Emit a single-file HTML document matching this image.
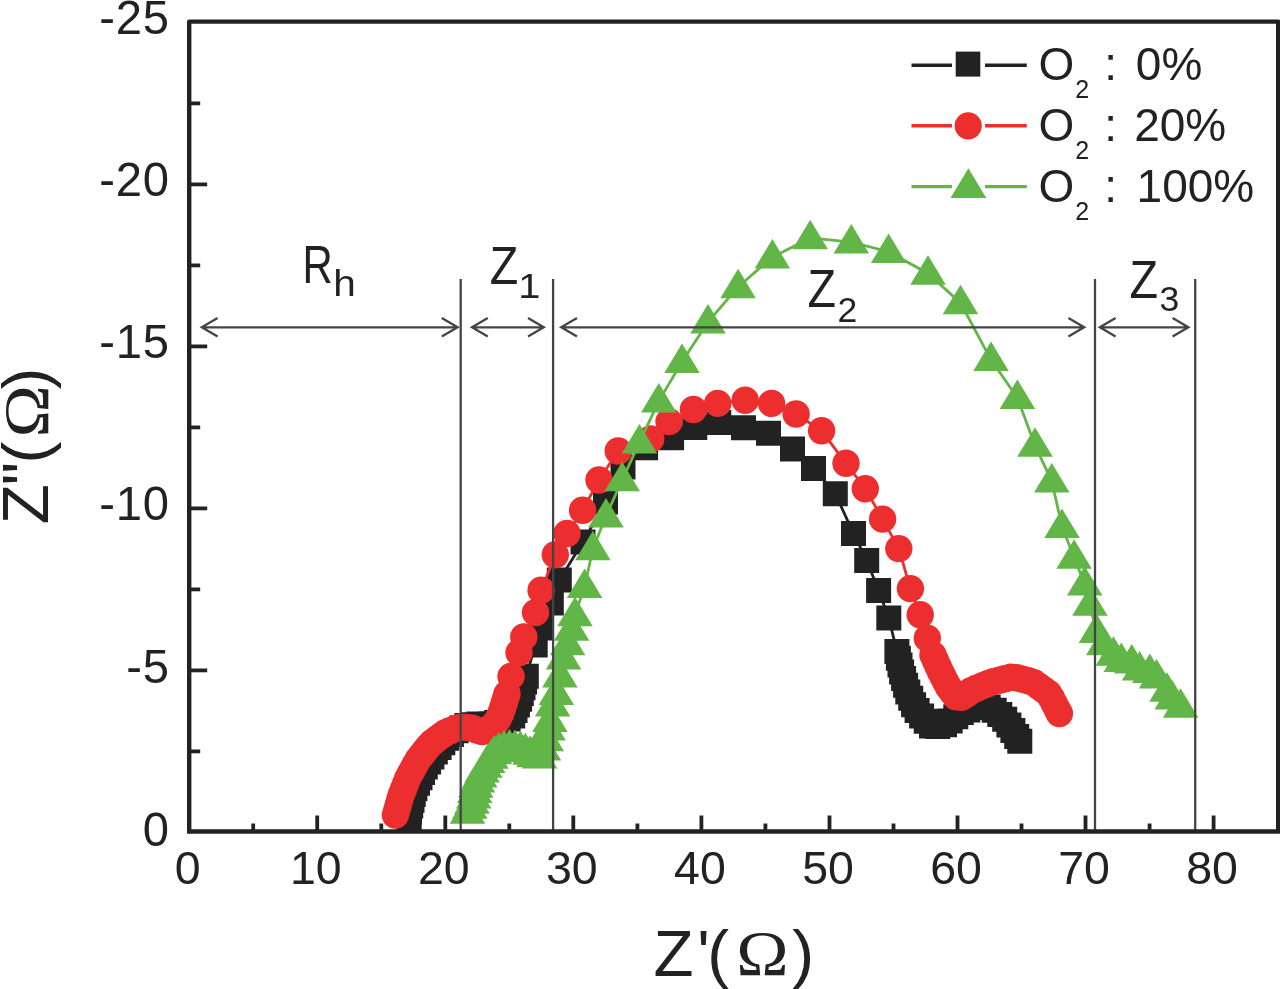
<!DOCTYPE html>
<html lang="en"><head><meta charset="utf-8"><title>Nyquist plot</title>
<style>html,body{margin:0;padding:0;background:#fff}body{width:1280px;height:989px;overflow:hidden}svg{display:block}</style></head>
<body>
<svg width="1280" height="989" viewBox="0 0 1280 989">
<rect width="1280" height="989" fill="#fff"/>
<defs><clipPath id="frame"><rect x="189.2" y="21.6" width="1089.0" height="809.9"/></clipPath></defs>
<g id="s-black" clip-path="url(#frame)"><polyline points="409.0,824.0 409.2,818.0 409.5,812.0 410.7,806.1 412.0,800.3 413.2,794.4 414.9,788.7 417.5,783.2 420.0,777.8 422.5,772.4 425.3,767.1 428.6,762.1 431.9,757.1 435.3,752.1 439.1,747.4 442.8,742.8 446.7,738.2 451.4,734.5 456.1,730.8 461.5,728.1 466.9,725.5 472.9,724.7 478.8,724.0 484.8,724.0 490.8,723.8 496.7,722.6 502.5,721.3 508.1,719.1 512.7,715.9 515.0,710.4 517.4,704.9 519.6,699.3 521.3,693.5 523.0,687.8 524.6,682.0 526.3,676.3 535.2,645.0 541.0,628.0 551.3,603.0 559.3,580.1 583.0,542.0 605.5,502.0 623.0,467.0 645.6,447.8 671.6,437.7 694.8,427.5 718.8,422.5 743.5,427.7 768.5,433.2 792.5,449.0 813.5,468.4 835.3,493.8 853.5,533.4 866.7,560.4 878.6,590.5 888.8,617.9 896.9,651.4 898.4,658.2 900.0,665.1 901.6,671.9 903.6,678.6 905.6,685.3 907.8,691.9 910.7,698.3 913.6,704.7 917.1,710.6 921.6,716.0 926.2,721.3 931.5,725.9 937.7,726.5 944.5,724.8 950.2,721.0 955.8,716.7 961.3,712.4 967.8,709.9 974.4,707.6 981.2,706.6 988.2,707.1 994.2,710.2 999.8,714.4 1004.7,719.3 1008.9,724.9 1012.9,730.6 1016.7,736.5 1019.8,741.2" fill="none" stroke="#222222" stroke-width="2.8"/>
<path fill="#222222" d="M396.5 811.5h25v25h-25zM396.7 805.5h25v25h-25zM397.0 799.5h25v25h-25zM398.2 793.6h25v25h-25zM399.5 787.8h25v25h-25zM400.7 781.9h25v25h-25zM402.4 776.2h25v25h-25zM405.0 770.7h25v25h-25zM407.5 765.3h25v25h-25zM410.0 759.9h25v25h-25zM412.8 754.6h25v25h-25zM416.1 749.6h25v25h-25zM419.4 744.6h25v25h-25zM422.8 739.6h25v25h-25zM426.6 734.9h25v25h-25zM430.3 730.3h25v25h-25zM434.2 725.7h25v25h-25zM438.9 722.0h25v25h-25zM443.6 718.3h25v25h-25zM449.0 715.6h25v25h-25zM454.4 713.0h25v25h-25zM460.4 712.2h25v25h-25zM466.3 711.5h25v25h-25zM472.3 711.5h25v25h-25zM478.3 711.3h25v25h-25zM484.2 710.1h25v25h-25zM490.0 708.8h25v25h-25zM495.6 706.6h25v25h-25zM500.2 703.4h25v25h-25zM502.5 697.9h25v25h-25zM504.9 692.4h25v25h-25zM507.1 686.8h25v25h-25zM508.8 681.0h25v25h-25zM510.5 675.3h25v25h-25zM512.1 669.5h25v25h-25zM513.8 663.8h25v25h-25zM522.7 632.5h25v25h-25zM528.5 615.5h25v25h-25zM538.8 590.5h25v25h-25zM546.8 567.6h25v25h-25zM570.5 529.5h25v25h-25zM593.0 489.5h25v25h-25zM610.5 454.5h25v25h-25zM633.1 435.3h25v25h-25zM659.1 425.2h25v25h-25zM682.3 415.0h25v25h-25zM706.3 410.0h25v25h-25zM731.0 415.2h25v25h-25zM756.0 420.7h25v25h-25zM780.0 436.5h25v25h-25zM801.0 455.9h25v25h-25zM822.8 481.3h25v25h-25zM841.0 520.9h25v25h-25zM854.2 547.9h25v25h-25zM866.1 578.0h25v25h-25zM876.3 605.4h25v25h-25zM884.4 638.9h25v25h-25zM885.9 645.7h25v25h-25zM887.5 652.6h25v25h-25zM889.1 659.4h25v25h-25zM891.1 666.1h25v25h-25zM893.1 672.8h25v25h-25zM895.3 679.4h25v25h-25zM898.2 685.8h25v25h-25zM901.1 692.2h25v25h-25zM904.6 698.1h25v25h-25zM909.1 703.5h25v25h-25zM913.7 708.8h25v25h-25zM919.0 713.4h25v25h-25zM925.2 714.0h25v25h-25zM932.0 712.3h25v25h-25zM937.7 708.5h25v25h-25zM943.3 704.2h25v25h-25zM948.8 699.9h25v25h-25zM955.3 697.4h25v25h-25zM961.9 695.1h25v25h-25zM968.7 694.1h25v25h-25zM975.7 694.6h25v25h-25zM981.7 697.7h25v25h-25zM987.3 701.9h25v25h-25zM992.2 706.8h25v25h-25zM996.4 712.4h25v25h-25zM1000.4 718.1h25v25h-25zM1004.2 724.0h25v25h-25zM1007.3 728.7h25v25h-25z"/></g>
<g id="s-red" fill="#ec2e2f" clip-path="url(#frame)"><polyline points="395.4,815.1 396.9,809.8 398.4,804.5 399.8,799.2 401.6,794.0 403.6,788.9 405.6,783.8 407.6,778.6 410.2,773.8 412.8,769.0 415.5,764.1 418.2,759.4 421.6,755.1 425.0,750.7 428.4,746.4 432.2,742.5 436.6,739.2 441.0,735.9 445.5,732.8 450.6,730.6 455.6,728.4 460.9,727.3 466.4,727.4 471.8,728.1 476.9,730.1 482.2,731.6 487.3,730.1 491.7,727.0 495.6,723.1 498.4,718.4 500.7,713.4 502.6,708.2 504.2,703.0 505.9,697.7 507.0,694.0 511.0,676.4 519.0,652.8 523.8,637.0 535.5,612.6 541.1,590.2 555.3,554.8 567.0,533.5 582.6,510.2 599.0,480.0 618.2,451.0 650.7,439.0 669.0,421.6 693.4,409.5 717.7,403.4 745.2,400.3 771.6,403.4 796.1,414.0 821.6,430.8 846.0,463.3 865.3,488.7 882.6,519.1 898.8,548.6 910.4,588.6 920.2,614.8 927.3,638.2 933.0,655.0 935.4,660.5 937.9,666.0 940.4,671.4 943.1,676.8 945.8,682.1 948.7,687.3 952.3,692.1 956.0,696.9 961.4,697.3 966.4,694.3 971.2,690.7 976.6,688.2 982.2,685.9 987.7,683.7 993.3,681.6 999.2,680.2 1005.0,678.7 1010.8,677.3 1016.6,677.8 1022.5,679.2 1028.3,680.7 1033.9,682.6 1038.7,686.2 1043.5,689.8 1048.3,693.3 1051.5,698.3 1054.3,703.7 1057.0,709.0 1059.4,713.5" fill="none" stroke="#ec2e2f" stroke-width="2.8"/>
<circle cx="395.4" cy="815.1" r="13.7"/><circle cx="396.9" cy="809.8" r="13.7"/><circle cx="398.4" cy="804.5" r="13.7"/><circle cx="399.8" cy="799.2" r="13.7"/><circle cx="401.6" cy="794.0" r="13.7"/><circle cx="403.6" cy="788.9" r="13.7"/><circle cx="405.6" cy="783.8" r="13.7"/><circle cx="407.6" cy="778.6" r="13.7"/><circle cx="410.2" cy="773.8" r="13.7"/><circle cx="412.8" cy="769.0" r="13.7"/><circle cx="415.5" cy="764.1" r="13.7"/><circle cx="418.2" cy="759.4" r="13.7"/><circle cx="421.6" cy="755.1" r="13.7"/><circle cx="425.0" cy="750.7" r="13.7"/><circle cx="428.4" cy="746.4" r="13.7"/><circle cx="432.2" cy="742.5" r="13.7"/><circle cx="436.6" cy="739.2" r="13.7"/><circle cx="441.0" cy="735.9" r="13.7"/><circle cx="445.5" cy="732.8" r="13.7"/><circle cx="450.6" cy="730.6" r="13.7"/><circle cx="455.6" cy="728.4" r="13.7"/><circle cx="460.9" cy="727.3" r="13.7"/><circle cx="466.4" cy="727.4" r="13.7"/><circle cx="471.8" cy="728.1" r="13.7"/><circle cx="476.9" cy="730.1" r="13.7"/><circle cx="482.2" cy="731.6" r="13.7"/><circle cx="487.3" cy="730.1" r="13.7"/><circle cx="491.7" cy="727.0" r="13.7"/><circle cx="495.6" cy="723.1" r="13.7"/><circle cx="498.4" cy="718.4" r="13.7"/><circle cx="500.7" cy="713.4" r="13.7"/><circle cx="502.6" cy="708.2" r="13.7"/><circle cx="504.2" cy="703.0" r="13.7"/><circle cx="505.9" cy="697.7" r="13.7"/><circle cx="507.0" cy="694.0" r="13.7"/><circle cx="511.0" cy="676.4" r="13.7"/><circle cx="519.0" cy="652.8" r="13.7"/><circle cx="523.8" cy="637.0" r="13.7"/><circle cx="535.5" cy="612.6" r="13.7"/><circle cx="541.1" cy="590.2" r="13.7"/><circle cx="555.3" cy="554.8" r="13.7"/><circle cx="567.0" cy="533.5" r="13.7"/><circle cx="582.6" cy="510.2" r="13.7"/><circle cx="599.0" cy="480.0" r="13.7"/><circle cx="618.2" cy="451.0" r="13.7"/><circle cx="650.7" cy="439.0" r="13.7"/><circle cx="669.0" cy="421.6" r="13.7"/><circle cx="693.4" cy="409.5" r="13.7"/><circle cx="717.7" cy="403.4" r="13.7"/><circle cx="745.2" cy="400.3" r="13.7"/><circle cx="771.6" cy="403.4" r="13.7"/><circle cx="796.1" cy="414.0" r="13.7"/><circle cx="821.6" cy="430.8" r="13.7"/><circle cx="846.0" cy="463.3" r="13.7"/><circle cx="865.3" cy="488.7" r="13.7"/><circle cx="882.6" cy="519.1" r="13.7"/><circle cx="898.8" cy="548.6" r="13.7"/><circle cx="910.4" cy="588.6" r="13.7"/><circle cx="920.2" cy="614.8" r="13.7"/><circle cx="927.3" cy="638.2" r="13.7"/><circle cx="933.0" cy="655.0" r="13.7"/><circle cx="935.4" cy="660.5" r="13.7"/><circle cx="937.9" cy="666.0" r="13.7"/><circle cx="940.4" cy="671.4" r="13.7"/><circle cx="943.1" cy="676.8" r="13.7"/><circle cx="945.8" cy="682.1" r="13.7"/><circle cx="948.7" cy="687.3" r="13.7"/><circle cx="952.3" cy="692.1" r="13.7"/><circle cx="956.0" cy="696.9" r="13.7"/><circle cx="961.4" cy="697.3" r="13.7"/><circle cx="966.4" cy="694.3" r="13.7"/><circle cx="971.2" cy="690.7" r="13.7"/><circle cx="976.6" cy="688.2" r="13.7"/><circle cx="982.2" cy="685.9" r="13.7"/><circle cx="987.7" cy="683.7" r="13.7"/><circle cx="993.3" cy="681.6" r="13.7"/><circle cx="999.2" cy="680.2" r="13.7"/><circle cx="1005.0" cy="678.7" r="13.7"/><circle cx="1010.8" cy="677.3" r="13.7"/><circle cx="1016.6" cy="677.8" r="13.7"/><circle cx="1022.5" cy="679.2" r="13.7"/><circle cx="1028.3" cy="680.7" r="13.7"/><circle cx="1033.9" cy="682.6" r="13.7"/><circle cx="1038.7" cy="686.2" r="13.7"/><circle cx="1043.5" cy="689.8" r="13.7"/><circle cx="1048.3" cy="693.3" r="13.7"/><circle cx="1051.5" cy="698.3" r="13.7"/><circle cx="1054.3" cy="703.7" r="13.7"/><circle cx="1057.0" cy="709.0" r="13.7"/><circle cx="1059.4" cy="713.5" r="13.7"/></g>
<g id="s-green" clip-path="url(#frame)"><polyline points="467.5,812.4 469.8,807.4 472.0,802.4 473.7,797.2 474.7,791.8 475.8,786.4 477.5,781.2 479.8,776.2 482.1,771.2 484.9,766.5 487.7,761.8 491.0,757.4 494.4,753.0 499.0,750.1 504.0,748.0 509.4,747.0 514.9,747.6 520.3,748.5 525.3,750.9 530.1,753.5 534.0,755.9 539.5,757.1 543.5,749.0 546.3,739.9 548.1,729.0 549.9,720.8 552.6,705.3 556.3,693.5 559.9,676.2 563.6,658.0 567.6,643.9 571.6,629.4 575.0,614.9 584.6,586.5 592.9,548.9 606.0,516.0 622.2,479.9 639.5,442.3 658.8,401.1 682.0,361.8 708.0,322.2 738.1,286.9 772.4,257.2 810.2,237.9 851.3,242.2 888.6,251.7 928.0,273.4 960.5,302.9 991.0,359.8 1017.4,397.8 1035.0,445.4 1051.8,481.1 1062.0,526.6 1074.1,557.4 1084.7,584.0 1089.9,604.4 1096.4,631.6 1103.7,643.9 1113.4,654.4 1121.3,660.8 1131.8,662.0 1139.6,669.0 1149.8,671.8 1156.6,677.2 1167.0,690.4 1172.2,698.2 1180.6,706.4" fill="none" stroke="#62b547" stroke-width="2.8"/>
<path fill="#62b547" d="M467.5 794.2l17.75 29.5h-35.5zM469.8 789.2l17.75 29.5h-35.5zM472.0 784.2l17.75 29.5h-35.5zM473.7 779.0l17.75 29.5h-35.5zM474.7 773.6l17.75 29.5h-35.5zM475.8 768.2l17.75 29.5h-35.5zM477.5 763.0l17.75 29.5h-35.5zM479.8 758.1l17.75 29.5h-35.5zM482.1 753.1l17.75 29.5h-35.5zM484.9 748.3l17.75 29.5h-35.5zM487.7 743.6l17.75 29.5h-35.5zM491.0 739.2l17.75 29.5h-35.5zM494.4 734.8l17.75 29.5h-35.5zM499.0 732.0l17.75 29.5h-35.5zM504.0 729.9l17.75 29.5h-35.5zM509.4 728.9l17.75 29.5h-35.5zM514.9 729.5l17.75 29.5h-35.5zM520.3 730.4l17.75 29.5h-35.5zM525.3 732.7l17.75 29.5h-35.5zM530.1 735.3l17.75 29.5h-35.5zM534.0 737.8l17.75 29.5h-35.5zM539.5 739.0l17.75 29.5h-35.5zM543.5 730.9l17.75 29.5h-35.5zM546.3 721.8l17.75 29.5h-35.5zM548.1 710.9l17.75 29.5h-35.5zM549.9 702.6l17.75 29.5h-35.5zM552.6 687.1l17.75 29.5h-35.5zM556.3 675.4l17.75 29.5h-35.5zM559.9 658.0l17.75 29.5h-35.5zM563.6 639.9l17.75 29.5h-35.5zM567.6 625.8l17.75 29.5h-35.5zM571.6 611.2l17.75 29.5h-35.5zM575.0 596.8l17.75 29.5h-35.5zM584.6 568.4l17.75 29.5h-35.5zM592.9 530.8l17.75 29.5h-35.5zM606.0 497.9l17.75 29.5h-35.5zM622.2 461.8l17.75 29.5h-35.5zM639.5 424.1l17.75 29.5h-35.5zM658.8 382.9l17.75 29.5h-35.5zM682.0 343.6l17.75 29.5h-35.5zM708.0 304.1l17.75 29.5h-35.5zM738.1 268.8l17.75 29.5h-35.5zM772.4 239.1l17.75 29.5h-35.5zM810.2 219.8l17.75 29.5h-35.5zM851.3 224.1l17.75 29.5h-35.5zM888.6 233.6l17.75 29.5h-35.5zM928.0 255.2l17.75 29.5h-35.5zM960.5 284.8l17.75 29.5h-35.5zM991.0 341.6l17.75 29.5h-35.5zM1017.4 379.6l17.75 29.5h-35.5zM1035.0 427.2l17.75 29.5h-35.5zM1051.8 462.9l17.75 29.5h-35.5zM1062.0 508.5l17.75 29.5h-35.5zM1074.1 539.2l17.75 29.5h-35.5zM1084.7 565.9l17.75 29.5h-35.5zM1089.9 586.2l17.75 29.5h-35.5zM1096.4 613.5l17.75 29.5h-35.5zM1103.7 625.8l17.75 29.5h-35.5zM1113.4 636.2l17.75 29.5h-35.5zM1121.3 642.6l17.75 29.5h-35.5zM1131.8 643.9l17.75 29.5h-35.5zM1139.6 650.9l17.75 29.5h-35.5zM1149.8 653.6l17.75 29.5h-35.5zM1156.6 659.0l17.75 29.5h-35.5zM1167.0 672.2l17.75 29.5h-35.5zM1172.2 680.0l17.75 29.5h-35.5zM1180.6 688.2l17.75 29.5h-35.5z"/></g>
<g stroke="#444444" stroke-width="2.3" fill="none">
<line x1="460.7" y1="279" x2="460.7" y2="831"/>
<line x1="553.1" y1="279" x2="553.1" y2="831"/>
<line x1="1095" y1="279" x2="1095" y2="831"/>
<line x1="1195.2" y1="279" x2="1195.2" y2="831"/>
<path d="M201.8 327.3H457.6M217.60000000000002 318.1L201.8 327.3L217.60000000000002 336.5M441.8 318.1L457.6 327.3L441.8 336.5" stroke-linejoin="miter"/>
<path d="M472 327.3H543.8M487.8 318.1L472 327.3L487.8 336.5M528.0 318.1L543.8 327.3L528.0 336.5" stroke-linejoin="miter"/>
<path d="M561.2 327.3H1084.2M577.0 318.1L561.2 327.3L577.0 336.5M1068.4 318.1L1084.2 327.3L1068.4 336.5" stroke-linejoin="miter"/>
<path d="M1099.8 327.3H1188.4M1115.6 318.1L1099.8 327.3L1115.6 336.5M1172.6000000000001 318.1L1188.4 327.3L1172.6000000000001 336.5" stroke-linejoin="miter"/>
</g>
<g stroke="#222222" stroke-width="4.4" fill="none" stroke-linecap="butt">
<path d="M189.2 833.7V21.6H1278.2V833.7M187.0 831.5H1280.4" stroke-linejoin="round"/>
</g>
<g stroke="#222222" stroke-width="3.8" fill="none">
<line x1="189.2" y1="751.4" x2="200.2" y2="751.4"/>
<line x1="189.2" y1="670.4" x2="207.2" y2="670.4"/>
<line x1="189.2" y1="589.4" x2="200.2" y2="589.4"/>
<line x1="189.2" y1="508.4" x2="207.2" y2="508.4"/>
<line x1="189.2" y1="427.4" x2="200.2" y2="427.4"/>
<line x1="189.2" y1="346.4" x2="207.2" y2="346.4"/>
<line x1="189.2" y1="265.4" x2="200.2" y2="265.4"/>
<line x1="189.2" y1="184.4" x2="207.2" y2="184.4"/>
<line x1="189.2" y1="103.4" x2="200.2" y2="103.4"/>
<line x1="253.2" y1="831.5" x2="253.2" y2="823.5"/>
<line x1="317.2" y1="831.5" x2="317.2" y2="815.5"/>
<line x1="381.3" y1="831.5" x2="381.3" y2="823.5"/>
<line x1="445.3" y1="831.5" x2="445.3" y2="815.5"/>
<line x1="509.3" y1="831.5" x2="509.3" y2="823.5"/>
<line x1="573.3" y1="831.5" x2="573.3" y2="815.5"/>
<line x1="637.4" y1="831.5" x2="637.4" y2="823.5"/>
<line x1="701.4" y1="831.5" x2="701.4" y2="815.5"/>
<line x1="765.4" y1="831.5" x2="765.4" y2="823.5"/>
<line x1="829.5" y1="831.5" x2="829.5" y2="815.5"/>
<line x1="893.5" y1="831.5" x2="893.5" y2="823.5"/>
<line x1="957.5" y1="831.5" x2="957.5" y2="815.5"/>
<line x1="1021.5" y1="831.5" x2="1021.5" y2="823.5"/>
<line x1="1085.5" y1="831.5" x2="1085.5" y2="815.5"/>
<line x1="1149.6" y1="831.5" x2="1149.6" y2="823.5"/>
<line x1="1213.6" y1="831.5" x2="1213.6" y2="815.5"/>
</g>
<g font-family="Liberation Sans, Arial, sans-serif" font-size="46.5" fill="#222222">
<text x="187.7" y="884.0" text-anchor="middle">0</text>
<text x="315.8" y="884.0" text-anchor="middle">10</text>
<text x="443.8" y="884.0" text-anchor="middle">20</text>
<text x="571.8" y="884.0" text-anchor="middle">30</text>
<text x="699.9" y="884.0" text-anchor="middle">40</text>
<text x="828.0" y="884.0" text-anchor="middle">50</text>
<text x="956.0" y="884.0" text-anchor="middle">60</text>
<text x="1084.0" y="884.0" text-anchor="middle">70</text>
<text x="1212.1" y="884.0" text-anchor="middle">80</text>
<text x="169.6" y="845.5" text-anchor="end" font-size="47.2" letter-spacing="0.7">0</text>
<text x="169.6" y="683.1" text-anchor="end" font-size="47.2" letter-spacing="0.7">-5</text>
<text x="169.6" y="519.8" text-anchor="end" font-size="47.2" letter-spacing="0.7">-10</text>
<text x="169.6" y="358.4" text-anchor="end" font-size="47.2" letter-spacing="0.7">-15</text>
<text x="169.6" y="196.1" text-anchor="end" font-size="47.2" letter-spacing="0.7">-20</text>
<text x="169.6" y="33.7" text-anchor="end" font-size="47.2" letter-spacing="0.7">-25</text>
</g>
<g fill="#222222" font-family="Liberation Sans, Arial, sans-serif" font-size="65.5">
<text x="653.4" y="976.3">Z</text><text x="697.2" y="976.3">'</text><text x="707.3" y="976.3">(</text><text x="792.3" y="976.3">)</text>
<text transform="translate(736.2,975.4) scale(1.11,1)" font-family="Liberation Serif, Times New Roman, serif" font-size="63.5">Ω</text>
</g>
<g fill="#222222" font-family="Liberation Sans, Arial, sans-serif" font-size="65.5" transform="translate(48.2,0) rotate(-90)">
<text x="-524.2" y="0">Z</text><text x="-485.3" y="0">"</text><text x="-463.5" y="0">(</text><text x="-389.5" y="0">)</text>
<text transform="translate(-437.6,-0.3) scale(1.11,1)" font-family="Liberation Serif, Times New Roman, serif" font-size="63.5">Ω</text>
</g>
<g font-family="Liberation Sans, Arial, sans-serif" fill="#222222"><text transform="translate(302.4,283.2) scale(0.79,1)" font-size="53">R</text><text transform="translate(333.3,296.0) scale(1.12,1)" font-size="36.2">h</text></g>
<g font-family="Liberation Sans, Arial, sans-serif" fill="#222222"><text transform="translate(489.8,284.4) scale(0.88,1)" font-size="53">Z</text><text transform="translate(518.3,298.0) scale(1.12,1)" font-size="35.5">1</text></g>
<g font-family="Liberation Sans, Arial, sans-serif" fill="#222222"><text transform="translate(807.6,306.6) scale(0.88,1)" font-size="53">Z</text><text transform="translate(837.5,321.6) scale(1.0,1)" font-size="35.5">2</text></g>
<g font-family="Liberation Sans, Arial, sans-serif" fill="#222222"><text transform="translate(1129.6,298.4) scale(0.88,1)" font-size="53">Z</text><text transform="translate(1159.5,311.4) scale(1.0,1)" font-size="35.5">3</text></g>
<g stroke-width="3.4" fill="none">
<path stroke="#222222" d="M911.5 65.2H952M985 65.2H1026.8"/>
<path stroke="#ec2e2f" d="M911.5 125.8H952M985 125.8H1026.8"/>
<path stroke="#62b547" d="M911.5 186.6H952M985 186.6H1026.8"/>
</g>
<rect x="955.7" y="51.6" width="24.6" height="25" fill="#222222"/>
<circle cx="968.2" cy="125.8" r="13.6" fill="#ec2e2f"/>
<path d="M968.4 168.3l17.9 29.8h-35.8z" fill="#62b547"/>
<g font-family="Liberation Sans, Arial, sans-serif" font-size="46" fill="#222222">
<text x="1038.6" y="80.3">O</text><text x="1075.2" y="98.3" font-size="25">2</text>
<text x="1104.3" y="80.3">:</text>
<text x="1135.8" y="80.3">0%</text>
<text x="1038.6" y="141.1">O</text><text x="1075.2" y="159.1" font-size="25">2</text>
<text x="1104.3" y="141.1">:</text>
<text x="1134.2" y="141.1">20%</text>
<text x="1038.6" y="202.1">O</text><text x="1075.2" y="220.1" font-size="25">2</text>
<text x="1104.3" y="202.1">:</text>
<text x="1136.6" y="202.1">100%</text>
</g>
</svg>
</body></html>
